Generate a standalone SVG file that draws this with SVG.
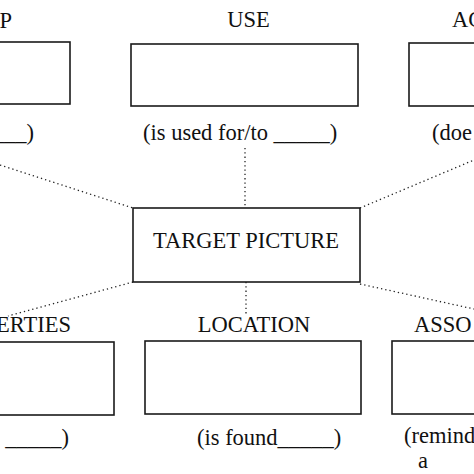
<svg xmlns="http://www.w3.org/2000/svg" width="474" height="474" viewBox="0 0 474 474">
<style>
text{font-family:"Liberation Serif","Times New Roman",serif;font-size:22.5px;fill:#111}
.box{fill:#fff;stroke:#1a1a1a;stroke-width:1.6}
.dot{stroke:#222;stroke-width:1.3;stroke-dasharray:1.3 3;fill:none}
</style>
<rect width="474" height="474" fill="#fff"/>
<g id="connectors">
<line class="dot" x1="0" y1="165" x2="133" y2="208"/>
<line class="dot" x1="133" y1="282" x2="8" y2="316"/>
<line class="dot" x1="360" y1="208" x2="474" y2="160"/>
<line class="dot" x1="360" y1="284" x2="474" y2="309"/>
<line class="dot" x1="245" y1="148" x2="245" y2="208"/>
<line class="dot" x1="246" y1="282" x2="246" y2="314"/>
</g>
<g id="node-top-left">
<text x="12" y="28" text-anchor="end">P</text>
<rect class="box" x="-50" y="42" width="120" height="62"/>
<text x="34" y="140" text-anchor="end">_____)</text>
</g>
<g id="node-use">
<text x="248.5" y="27" text-anchor="middle">USE</text>
<rect class="box" x="131" y="44" width="227" height="62"/>
<text x="143" y="140">(is used for/to _____)</text>
</g>
<g id="node-top-right">
<text x="452" y="27">AC</text>
<rect class="box" x="409" y="43" width="100" height="63"/>
<text x="432" y="140">(doe</text>
</g>
<g id="node-target">
<rect class="box" x="133" y="208" width="227" height="74"/>
<text x="246" y="248" text-anchor="middle">TARGET PICTURE</text>
</g>
<g id="node-properties">
<text x="71" y="332" text-anchor="end">ERTIES</text>
<rect class="box" x="-50" y="342" width="164" height="73"/>
<text x="69" y="445" text-anchor="end">_____)</text>
</g>
<g id="node-location">
<text x="254" y="332" text-anchor="middle">LOCATION</text>
<rect class="box" x="145" y="341" width="216" height="73"/>
<text x="197" y="445">(is found_____)</text>
</g>
<g id="node-assoc">
<text x="414" y="332">ASSO</text>
<rect class="box" x="392" y="341" width="120" height="73"/>
<text x="404" y="443">(remind</text>
<text x="418" y="468">a</text>
</g>
</svg>
